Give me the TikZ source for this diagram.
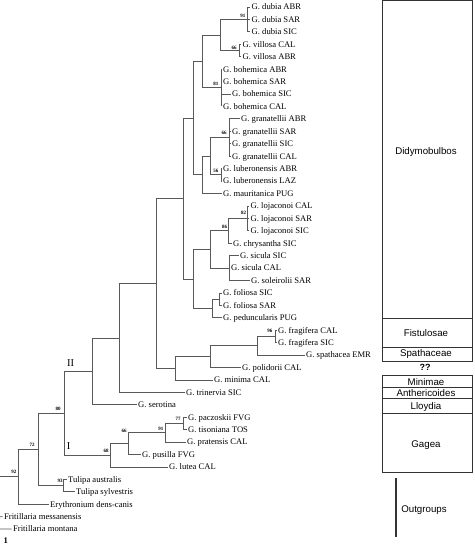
\documentclass[tikz,border=0pt]{standalone}
\usepackage{fontspec}
\setmainfont{Liberation Serif}
\setsansfont{Liberation Sans}
\begin{document}
\begin{tikzpicture}[x=1pt,y=-1pt,
  br/.style={draw=black!65, line width=0.75pt},
  leaf/.style={anchor=west, inner xsep=1.5pt, inner ysep=0pt, font=\fontsize{8.6}{9}\selectfont, text height=5.8pt, text depth=0pt},
  bs/.style={font=\bfseries\fontsize{5}{5}\selectfont, inner sep=0pt},
  clab/.style={font=\fontsize{10.5}{11}\selectfont, inner sep=0pt},
  grp/.style={draw=black!80, line width=1pt},
  glab/.style={font=\sffamily\fontsize{9.7}{10}\selectfont, inner sep=0pt, text height=7pt, text depth=0pt}]
\useasboundingbox (0,0) rectangle (474,545);
% leaves
\foreach \i/\x/\t in {
 1/251.5/G. dubia ABR, 2/251.5/G. dubia SAR, 3/251.5/G. dubia SIC,
 4/242.5/G. villosa CAL, 5/242.5/G. villosa ABR,
 6/223/G. bohemica ABR, 7/223/G. bohemica SAR, 8/232/G. bohemica SIC, 9/223/G. bohemica CAL,
 10/241/G. granatellii ABR, 11/232/G. granatellii SAR, 12/232/G. granatellii SIC, 13/232/G. granatellii CAL,
 14/223/G. luberonensis ABR, 15/223/G. luberonensis LAZ, 16/223/G. mauritanica PUG,
 17/250.5/G. lojaconoi CAL, 18/250.5/G. lojaconoi SAR, 19/250.5/G. lojaconoi SIC,
 20/233/G. chrysantha SIC, 21/240/G. sicula SIC, 22/231/G. sicula CAL, 23/251/G. soleirolii SAR,
 24/223/G. foliosa SIC, 25/223/G. foliosa SAR, 26/223/G. peduncularis PUG,
 27/278/G. fragifera CAL, 28/278/G. fragifera SIC, 29/306/G. spathacea EMR,
 30/242/G. polidorii CAL, 31/214/G. minima CAL, 32/186/G. trinervia SIC, 33/138/G. serotina,
 34/188/G. paczoskii FVG, 35/188/G. tisoniana TOS, 36/187/G. pratensis CAL,
 37/142/G. pusilla FVG, 38/169/G. lutea CAL,
 39/68/Tulipa australis, 40/76/Tulipa sylvestris, 41/50/Erythronium dens-canis,
 42/4/Fritillaria messanensis, 43/13/Fritillaria montana}
 \node[leaf] (L\i) at ({\x-1.5},{7+(\i-1)*12.43}) {\t};
% internal nodes
\coordinate (nDub) at (247,19.43);
\coordinate (nVil) at (239,50.5);
\coordinate (nDV) at (220,34.97);
\coordinate (nBoh) at (221.5,87.8);
\coordinate (nDVB) at (202,61.4);
\coordinate (nGra) at (229,137.5);
\coordinate (nLub) at (221,174.8);
\coordinate (nGL) at (210,156.2);
\coordinate (nGLM) at (202,174.8);
\coordinate (nUp) at (193,118.1);
\coordinate (nLoj) at (247,218.3);
\coordinate (nLC) at (228,230.7);
\coordinate (nSic) at (229,268.0);
\coordinate (nLCS) at (210,249.4);
\coordinate (nFol) at (219,299.1);
\coordinate (nFP) at (212,308.4);
\coordinate (nMid) at (193,278.9);
\coordinate (nDid) at (183,198.5);
\coordinate (nFra) at (275,336.4);
\coordinate (nFS) at (257,345.7);
\coordinate (nFSP) at (210,356.6);
\coordinate (nMin) at (175,368.2);
\coordinate (nDM) at (156,283.4);
\coordinate (nTri) at (119,337.9);
\coordinate (nSer) at (92,371.3);
\coordinate (nPac) at (183,423.4);
\coordinate (nPra) at (165,432.7);
\coordinate (nPus) at (128,443.6);
\coordinate (nLut) at (110,455.3);
\coordinate (nGag) at (64,413.3);
\coordinate (nTul) at (63,485.6);
\coordinate (nOut) at (38,449.4);
\coordinate (nRoot) at (18,476.8);
\coordinate (rootL) at (0,476.8);
\coordinate (frA) at (0,516.63);
\coordinate (frB) at (0,529.06);
% leaf edges
\foreach \p/\c in {nDub/1,nDub/2,nDub/3,nVil/4,nVil/5,nBoh/6,nBoh/7,nBoh/8,nBoh/9,
  nGra/10,nGra/11,nGra/12,nGra/13,nLub/14,nLub/15,nGLM/16,nLoj/17,nLoj/18,nLoj/19,
  nLC/20,nSic/21,nSic/22,nSic/23,nFol/24,nFol/25,nFP/26,nFra/27,nFra/28,nFS/29,
  nFSP/30,nMin/31,nTri/32,nSer/33,nPac/34,nPac/35,nPra/36,nPus/37,nLut/38,
  nTul/39,nTul/40,nRoot/41}
  \draw[br] (\p) |- (L\c.west);
% internal edges
\foreach \p/\c in {nDV/nDub,nDV/nVil,nDVB/nDV,nDVB/nBoh,nGL/nGra,nGL/nLub,nGLM/nGL,
  nUp/nDVB,nUp/nGLM,nLC/nLoj,nLCS/nLC,nLCS/nSic,nFP/nFol,nMid/nLCS,nMid/nFP,
  nDid/nUp,nDid/nMid,nFS/nFra,nFSP/nFS,nMin/nFSP,nDM/nDid,nDM/nMin,nTri/nDM,
  nSer/nTri,nPra/nPac,nPus/nPra,nLut/nPus,nGag/nSer,nGag/nLut,nOut/nGag,nOut/nTul,
  nRoot/nOut}
  \draw[br] (\p) |- (\c);
\draw[br] (rootL) -- (nRoot);
\draw[br] (frA) -- (L42.west);
\draw[br] (frB) -- (L43.west);
% bootstrap values
\node[bs] (b1) at (242.8,15.7) {91};
\node[bs] (b2) at (234.2,47.7) {66};
\node[bs] (b3) at (215.8,84.3) {81};
\node[bs] (b4) at (224.2,133.2) {66};
\node[bs] (b5) at (215.8,171) {56};
\node[bs] (b6) at (243.5,213.3) {82};
\node[bs] (b7) at (224.5,226.7) {86};
\node[bs] (b8) at (269.8,331.3) {96};
\node[bs] (b9) at (58.2,409) {80};
\node[bs] (b10) at (32.2,445) {72};
\node[bs] (b11) at (13.8,471.7) {92};
\node[bs] (b12) at (60,481.3) {93};
\node[bs] (b13) at (178.2,419.3) {77};
\node[bs] (b14) at (160.8,429) {91};
\node[bs] (b15) at (124.2,430.7) {66};
\node[bs] (b16) at (106,451) {68};
\node[clab] (cII) at (70.5,363.5) {II};
\node[clab] (cI) at (68.5,446) {I};
\node[font=\bfseries\fontsize{8.6}{9}\selectfont, inner sep=0pt] (scale) at (5.7,540.3) {1};
% group boxes
\draw[grp] (382,0.6) rectangle (472,318);
\draw[grp] (382,318) rectangle (472,347);
\draw[grp] (382,347) rectangle (472,361);
\draw[grp] (382,375.5) rectangle (472,387);
\draw[grp] (382,387) rectangle (472,398.5);
\draw[grp] (382,398.5) rectangle (472,413);
\draw[grp] (382,413) rectangle (472,472);
\coordinate (ogA) at (396,478);
\coordinate (ogB) at (396,537);
\draw[grp, line width=1.1pt] (ogA) -- (ogB);
\node[glab] (tDid) at (426,151) {Didymobulbos};
\node[glab] (tFis) at (426,332.5) {Fistulosae};
\node[glab] (tSpa) at (426,353) {Spathaceae};
\node[glab, font=\sffamily\bfseries\fontsize{9}{10}\selectfont] (tQ) at (425,367) {??};
\node[glab] (tMin) at (426,381.5) {Minimae};
\node[glab] (tAnt) at (426,393) {Anthericoides};
\node[glab] (tLlo) at (426,406) {Lloydia};
\node[glab] (tGag) at (426,443.5) {Gagea};
\node[glab] (tOut) at (424,508.5) {Outgroups};
\end{tikzpicture}
\end{document}
